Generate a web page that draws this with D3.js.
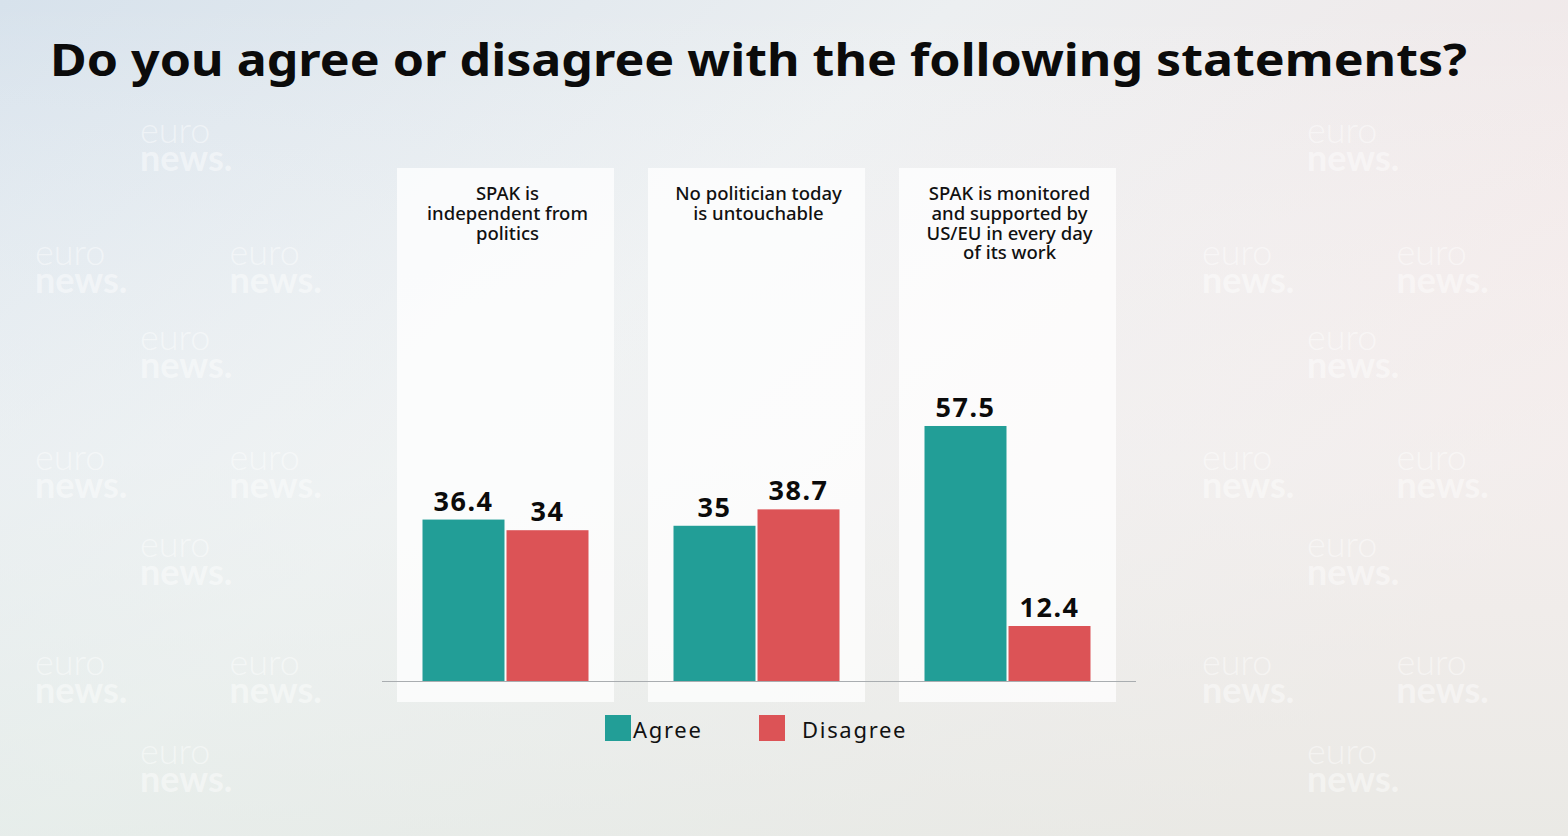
<!DOCTYPE html>
<html>
<head>
<meta charset="utf-8">
<script src="https://cdnjs.cloudflare.com/ajax/libs/d3/7.8.5/d3.min.js"></script>
<style>
  html, body { margin: 0; padding: 0; background: #e9edf0; }
  svg { display: block; }
</style>
</head>
<body>
<div id="chart"></div>
<script>
// chart data
var statements = [
    ['SPAK is', 'independent from', 'politics'],
    ['No politician today', 'is untouchable'],
    ['SPAK is monitored', 'and supported by', 'US/EU in every day', 'of its work']
];
var seriesNames = ['Agree', 'Disagree'];
var agreeValues = [36.4, 35, 57.5];
var disagreeValues = [34, 38.7, 12.4];
var seriesColors = ['#229e97', '#dc5356'];

var width = 1568;
var height = 836;
var baseY = 681;

var svg = d3.select('#chart')
    .append('svg')
    .attr('width', width)
    .attr('height', height)
    .attr('viewBox', '0 0 ' + width + ' ' + height);

var defs = svg.append('defs');

// background wash: bluish top-left, pinkish right, greenish bottom-left
var bg = defs.append('linearGradient').attr('id', 'bgGrad')
    .attr('x1', '0').attr('y1', '0').attr('x2', '1').attr('y2', '0.6');
bg.append('stop').attr('offset', '0').attr('stop-color', '#d7e2ec');
bg.append('stop').attr('offset', '0.45').attr('stop-color', '#eceff1');
bg.append('stop').attr('offset', '1').attr('stop-color', '#f4e5e4');

var bg2 = defs.append('linearGradient').attr('id', 'bgGrad2')
    .attr('x1', '0').attr('y1', '0').attr('x2', '0').attr('y2', '1');
bg2.append('stop').attr('offset', '0').attr('stop-color', '#ffffff').attr('stop-opacity', 0);
bg2.append('stop').attr('offset', '0.55').attr('stop-color', '#f3f6f5').attr('stop-opacity', 0.5);
bg2.append('stop').attr('offset', '1').attr('stop-color', '#e3ece6').attr('stop-opacity', 0.6);

svg.append('rect').attr('width', width).attr('height', height).attr('fill', 'url(#bgGrad)');
svg.append('rect').attr('width', width).attr('height', height).attr('fill', 'url(#bgGrad2)');

// faint watermark pattern, kept off the title and the chart panels
var wm = svg.append('g').attr('class', 'watermark')
    .attr('fill', '#ffffff').attr('fill-opacity', 0.45)
    .style('font-family', 'Lato, "Noto Sans", sans-serif');
var wmRows = [
    { y: 143, x0: 140 },
    { y: 265, x0: 35 },
    { y: 350, x0: 140 },
    { y: 470, x0: 35 },
    { y: 557, x0: 140 },
    { y: 675, x0: 35 },
    { y: 764, x0: 140 }
];
wmRows.forEach(function(r) {
    for (var cx = r.x0; cx + 95 < width; cx += 194.5) {
        var inChart = cx + 95 > 380 && cx < 1136 && r.y + 30 > 160 && r.y - 30 < 745;
        if (inChart) continue;
        var t = wm.append('text').attr('font-size', 36);
        t.append('tspan').attr('x', cx).attr('y', r.y).attr('font-weight', 300).text('euro');
        t.append('tspan').attr('x', cx).attr('y', r.y + 28).attr('font-weight', 700).text('news.');
    }
});

// title
svg.append('text')
    .attr('x', 50)
    .attr('y', 76)
    .attr('textLength', 1417)
    .attr('lengthAdjust', 'spacingAndGlyphs')
    .style('font-family', '"Noto Sans", "DejaVu Sans", sans-serif')
    .style('font-weight', 700)
    .style('font-size', '44px')
    .attr('fill', '#0b0b0b')
    .text('Do you agree or disagree with the following statements?');

// scales
var x0 = d3.scaleBand()
    .domain(d3.range(statements.length))
    .range([380, 1133])
    .padding(0);

var x1 = d3.scaleBand()
    .domain(seriesNames)
    .range([-83, 83])
    .paddingInner(0.024);

var y = d3.scaleLinear()
    .domain([0, 100])
    .range([baseY, baseY - 443.5]);

var color = d3.scaleOrdinal().domain(seriesNames).range(seriesColors);

var panelW = 217;

var groups = svg.selectAll('.statement')
    .data(statements.map(function(lines, i) {
        return { lines: lines, i: i, values: [agreeValues[i], disagreeValues[i]] };
    }))
    .enter()
    .append('g')
    .attr('class', 'statement')
    .attr('transform', function(d) {
        return 'translate(' + (x0(d.i) + x0.bandwidth() / 2) + ',0)';
    });

// white panels behind each group
groups.append('rect')
    .attr('x', -panelW / 2)
    .attr('y', 168)
    .attr('width', panelW)
    .attr('height', 534)
    .attr('fill', '#ffffff')
    .attr('fill-opacity', 0.75);

// statement headers
groups.append('text')
    .attr('text-anchor', 'middle')
    .style('font-family', '"Noto Sans", Roboto, sans-serif')
    .style('font-size', '18.5px')
    .style('font-weight', 500)
    .attr('fill', '#111')
    .selectAll('tspan')
    .data(function(d) { return d.lines; })
    .enter()
    .append('tspan')
    .attr('x', 2)
    .attr('y', function(d, i) { return 200 + i * 19.8; })
    .text(function(d) { return d; });

// bars
var bars = groups.selectAll('.bar')
    .data(function(d) {
        return seriesNames.map(function(s, k) { return { key: s, value: d.values[k] }; });
    })
    .enter();

bars.append('rect')
    .attr('class', 'bar')
    .attr('x', function(d) { return x1(d.key); })
    .attr('y', function(d) { return y(d.value); })
    .attr('width', x1.bandwidth())
    .attr('height', function(d) { return baseY - y(d.value); })
    .attr('fill', function(d) { return color(d.key); });

bars.append('text')
    .attr('x', function(d) { return x1(d.key) + x1.bandwidth() / 2; })
    .attr('y', function(d) { return y(d.value) - 9; })
    .attr('text-anchor', 'middle')
    .style('font-family', '"Noto Sans", "DejaVu Sans", sans-serif')
    .style('font-weight', 700)
    .style('font-size', '27px')
    .style('letter-spacing', '1.5px')
    .attr('fill', '#0b0b0b')
    .text(function(d) { return d.value; });

// baseline
svg.append('line')
    .attr('x1', 382)
    .attr('x2', 1136)
    .attr('y1', baseY + 0.5)
    .attr('y2', baseY + 0.5)
    .attr('stroke', '#a9adb0')
    .attr('stroke-width', 1);

// legend
var legendX = [605, 759];
var legendTextX = [633, 802];
var legend = svg.selectAll('.legend')
    .data(seriesNames)
    .enter()
    .append('g')
    .attr('class', 'legend');

legend.append('rect')
    .attr('x', function(d, i) { return legendX[i]; })
    .attr('y', 715)
    .attr('width', 26)
    .attr('height', 26)
    .attr('fill', function(d) { return color(d); });

legend.append('text')
    .attr('x', function(d, i) { return legendTextX[i]; })
    .attr('y', 738)
    .style('font-family', '"Noto Sans", "DejaVu Sans", sans-serif')
    .style('font-size', '22px')
    .style('letter-spacing', '1.7px')
    .attr('fill', '#111')
    .text(function(d) { return d; });
</script>
</body>
</html>
